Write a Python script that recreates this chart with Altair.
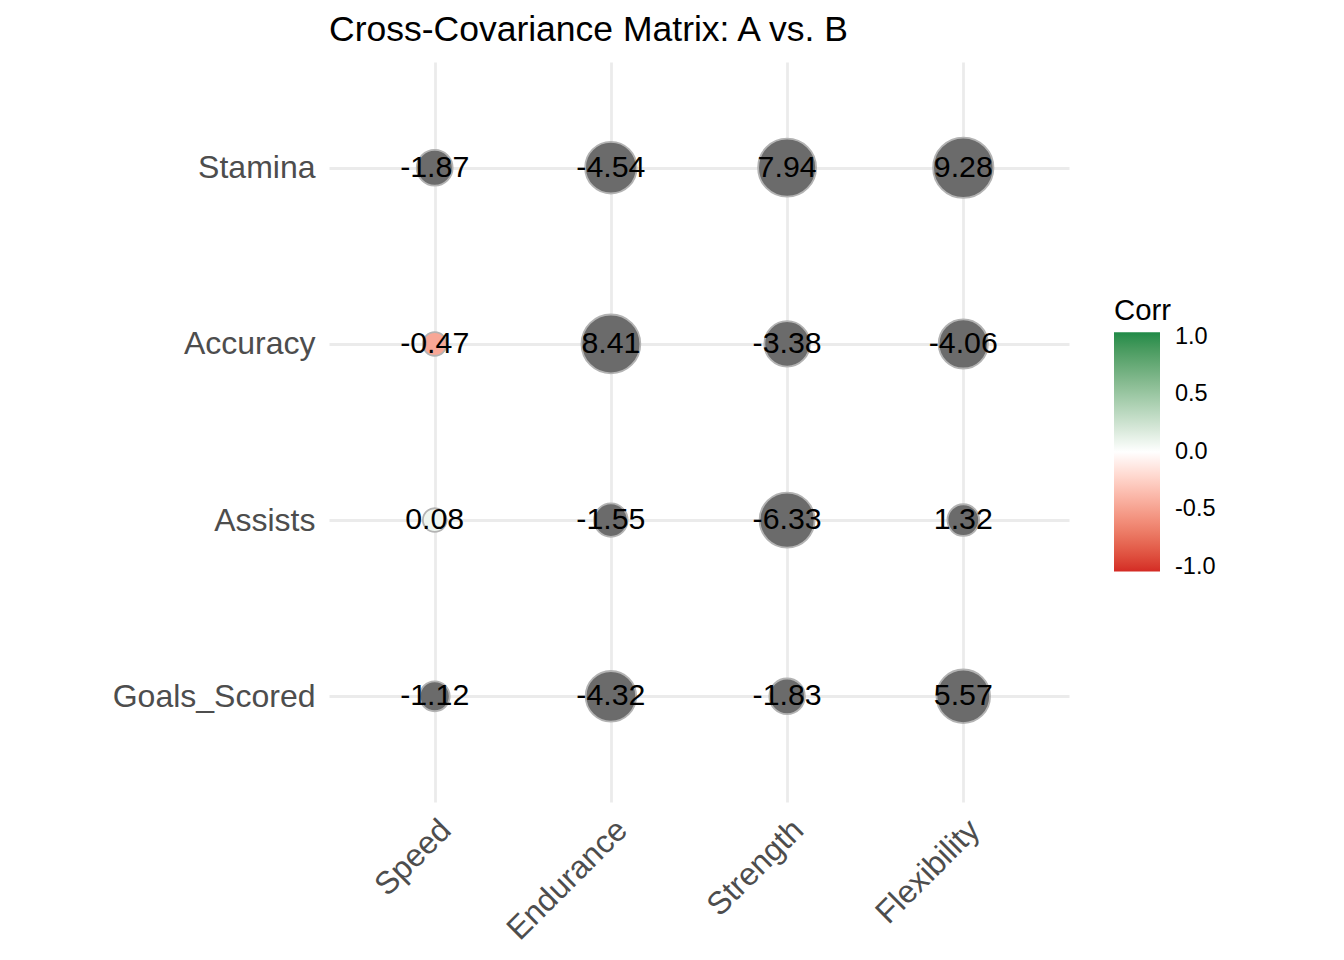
import altair as alt
import pandas as pd

cols = ["Speed", "Endurance", "Strength", "Flexibility"]
rows = ["Stamina", "Accuracy", "Assists", "Goals_Scored"]
vals_stamina = [-1.87, -4.54, 7.94, 9.28]
vals_accuracy = [-0.47, 8.41, -3.38, -4.06]
vals_assists = [0.08, -1.55, -6.33, 1.32]
vals_goals = [-1.12, -4.32, -1.83, 5.57]
legend_ticks = [-1.0, -0.5, 0.0, 0.5, 1.0]

records = []
for r, vs in zip(rows, [vals_stamina, vals_accuracy, vals_assists, vals_goals]):
    for c, v in zip(cols, vs):
        records.append({"A": r, "B": c, "Corr": v, "absval": abs(v), "label": f"{v:.2f}"})
df = pd.DataFrame(records)
amax = float(df["absval"].max())

FONT = "Liberation Sans"
RED = "#D42A24"
GREEN = "#1F8A47"
EXT = 1.04  # small extension so the end labels of the gradient sit centred on its ends

x = alt.X("B:N", sort=cols, scale=alt.Scale(type="point", padding=0.6),
          axis=alt.Axis(title=None, labelAngle=-45, labelAlign="right", labelBaseline="top",
                        labelPadding=12, labelFontSize=32, labelColor="#4D4D4D", labelFont=FONT,
                        labelLimit=0))
y = alt.Y("A:N", sort=rows, scale=alt.Scale(type="point", padding=0.6),
          axis=alt.Axis(title=None, labelPadding=14, labelFontSize=32, labelColor="#4D4D4D",
                        labelFont=FONT, labelLimit=0))

color = alt.when("abs(datum.Corr) > 1").then(alt.value("#6B6B6B")).otherwise(
    alt.Color("Corr:Q",
              scale=alt.Scale(domain=[-EXT, 0, EXT], range=[RED, "#FFFFFF", GREEN],
                              interpolate="lab", nice=False),
              legend=alt.Legend(title="Corr", orient="none", legendX=785, legendY=235,
                                direction="vertical", gradientLength=230 * EXT,
                                gradientThickness=46,
                                values=legend_ticks,
                                labelExpr="(datum.value < 0 ? '-' : '') + format(abs(datum.value), '.1f')",
                                labelFontSize=23.5,
                                labelFont=FONT, labelColor="black", labelOffset=15,
                                titleFontSize=29.3, titleFont=FONT, titleFontWeight="normal",
                                titleColor="black", titlePadding=6, gradientStrokeWidth=0))
)

points = alt.Chart(df).mark_circle(opacity=1, stroke="#B3B3B3", strokeWidth=1.8).encode(
    x=x, y=y, color=color,
    size=alt.Size("absval:Q",
                  scale=alt.Scale(domain=[0.47, 4.5, amax], range=[560, 2650, 3640],
                                  zero=False, nice=False, clamp=True),
                  legend=None),
)
text = alt.Chart(df).mark_text(fontSize=30.3, font=FONT, color="black", baseline="middle",
                               align="center").encode(x=x, y=y, text="label:N")

chart = alt.layer(points, text).properties(
    width=740, height=740,
    autosize=alt.AutoSizeParams(type="none"),
    padding={"left": 321, "top": 54, "right": 267, "bottom": 150},
    title=alt.TitleParams("Cross-Covariance Matrix: A vs. B", anchor="start", frame="group",
                          fontSize=35.5, font=FONT, fontWeight="normal", color="black",
                          offset=14),
).configure_view(stroke=None).configure_axis(
    domain=False, ticks=False, tickSize=0, grid=True, gridColor="#EBEBEB", gridWidth=2.8
)

chart.save("out.html", embed_options={"renderer": "svg", "actions": False})
